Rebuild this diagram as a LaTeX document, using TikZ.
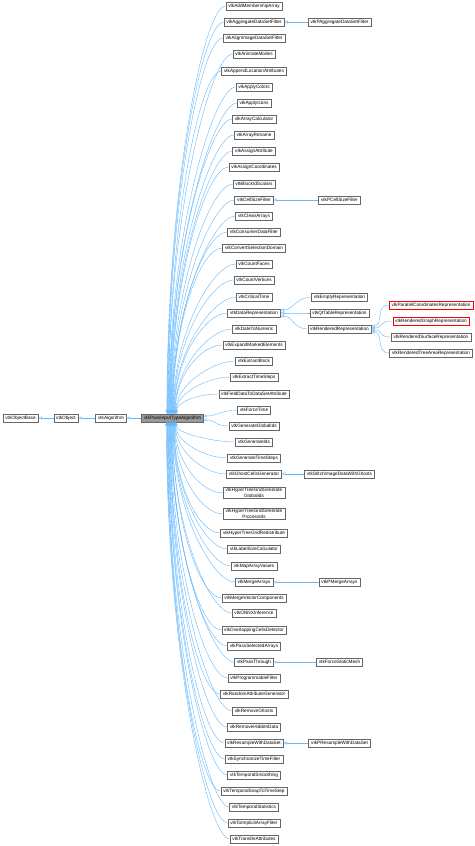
\documentclass[tikz,border=0pt]{standalone}
\usepackage{fontspec}
\setmainfont{Liberation Sans}
\usetikzlibrary{arrows.meta}
\definecolor{boxline}{RGB}{102,102,102}
\definecolor{curfill}{RGB}{153,153,153}
\definecolor{inhblue}{RGB}{99,184,255}
\tikzset{
  cls/.style={draw=boxline,fill=white,line width=0.4pt,inner xsep=2.5pt,inner ysep=0.8pt,
    minimum height=8pt,font=\fontsize{4.7}{6}\selectfont,align=center},
  cur/.style={cls,fill=curfill},
  trunc/.style={cls,draw=red},
  inh/.style={draw=inhblue,line width=0.4pt,-{Triangle[open,length=3.5pt,width=3pt]}}
}
\begin{document}
\begin{tikzpicture}[x=1pt,y=-1pt]
\useasboundingbox (0,0) rectangle (474,846);
% base chain
\node[cls] (base) at (20.5,418) {vtkObjectBase};
\node[cls] (obj) at (66,418) {vtkObject};
\node[cls] (algo) at (111,418) {vtkAlgorithm};
\node[cur] (pass) at (172.5,418) {vtkPassInputTypeAlgorithm};
\draw[inh] (obj.west) -- (base.east);
\draw[inh] (algo.west) -- (obj.east);
\draw[inh] (pass.west) -- (algo.east);
% subclasses above
\foreach \n/\t/\y [count=\i] in {addmem/vtkAddMembershipArray/6,aggr/vtkAggregateDataSetFilter/22,
  align/vtkAlignImageDataSetFilter/38,animate/vtkAnimateModes/54,appendloc/vtkAppendLocationAttributes/71,
  colors/vtkApplyColors/87,icons/vtkApplyIcons/103,arrcalc/vtkArrayCalculator/119,arrren/vtkArrayRename/135,
  assattr/vtkAssignAttribute/151,asscoord/vtkAssignCoordinates/167,blockid/vtkBlockIdScalars/184,
  cellsize/vtkCellSizeFilter/200,clean/vtkCleanArrays/216,consumer/vtkConsumerDataFilter/232,
  convsel/vtkConvertSelectionDomain/248,faces/vtkCountFaces/264,verts/vtkCountVertices/280,
  crit/vtkCriticalTime/297,datarep/vtkDataRepresentation/313,date/vtkDateToNumeric/329,
  expand/vtkExpandMarkedElements/345,extblock/vtkExtractBlock/361,extsteps/vtkExtractTimeSteps/377,
  fielddata/vtkFieldDataToDataSetAttribute/394}{
\node[cls] (\n) at (254,\y) {\t};
\pgfmathsetmacro\k{0.55*(414-\y)}
\pgfmathsetmacro\xs{-6+0.4*\i}
\draw[inh] (\n.west) .. controls +(-22,0) and +(0,-\k) .. ([xshift=\xs pt]pass.north);
}
% subclasses beside
\node[cls] (forcetime) at (254,410) {vtkForceTime};
\node[cls] (genglobal) at (254,426) {vtkGenerateGlobalIds};
\draw[inh] (forcetime.west) .. controls +(-14,0) and +(12,0) .. ([yshift=2pt]pass.east);
\draw[inh] (genglobal.west) .. controls +(-14,0) and +(12,0) .. ([yshift=-2pt]pass.east);
% subclasses below
\foreach \n/\t/\y [count=\i] in {genids/vtkGenerateIds/442,gensteps/vtkGenerateTimeSteps/458,
  ghost/vtkGhostCellsGenerator/474,htgglobal/{vtkHyperTreeGridGenerate\\GlobalIds}/493,
  htgproc/{vtkHyperTreeGridGenerate\\ProcessIds}/514,htgredist/vtkHyperTreeGridRedistribute/533,
  labelsize/vtkLabelSizeCalculator/549,maparr/vtkMapArrayValues/566,merge/vtkMergeArrays/582,
  mergevec/vtkMergeVectorComponents/598,onnx/vtkONNXInference/613,overlap/vtkOverlappingCellsDetector/630,
  passsel/vtkPassSelectedArrays/646,passthru/vtkPassThrough/662,progr/vtkProgrammableFilter/678,
  randattr/vtkRandomAttributeGenerator/694,rmghosts/vtkRemoveGhosts/711,rmhidden/vtkRemoveHiddenData/727,
  resample/vtkResampleWithDataSet/743,synctime/vtkSynchronizeTimeFilter/759,tsmooth/vtkTemporalSmoothing/775,
  tsnap/vtkTemporalSnapToTimeStep/791,tstats/vtkTemporalStatistics/807,toimpl/vtkToImplicitArrayFilter/823,
  transfer/vtkTransferAttributes/839}{
\node[cls] (\n) at (254,\y) {\t};
\pgfmathsetmacro\k{0.55*(\y-422)}
\pgfmathsetmacro\xs{4-0.4*\i}
\draw[inh] (\n.west) .. controls +(-22,0) and +(0,\k) .. ([xshift=\xs pt]pass.south);
}
% second level, one child each
\foreach \n/\t/\y/\p in {paggr/vtkPAggregateDataSetFilter/22/aggr,pcell/vtkPCellSizeFilter/200/cellsize,
  stitch/vtkStitchImageDataWithGhosts/474/ghost,pmerge/vtkPMergeArrays/582/merge,
  staticmesh/vtkForceStaticMesh/662/passthru,presample/vtkPResampleWithDataSet/743/resample}{
\node[cls] (\n) at (339.5,\y) {\t};
\draw[inh] (\n.west) -- (\p.east);
}
% representations
\foreach \n/\t/\y/\s in {emptyrep/vtkEmptyRepresentation/297/3,qtrep/vtkQtTableRepresentation/313/0,
  rendrep/vtkRenderedRepresentation/329/-3}{
\node[cls] (\n) at (339.5,\y) {\t};
\draw[inh] (\n.west) .. controls +(-14,0) and +(12,0) .. ([yshift=\s pt]datarep.east);
}
\foreach \n/\t/\y/\s/\st in {parcoord/vtkParallelCoordinatesRepresentation/305/3/trunc,
  rendgraph/vtkRenderedGraphRepresentation/321/1/trunc,rendsurf/vtkRenderedSurfaceRepresentation/337/-1/cls,
  rendtree/vtkRenderedTreeAreaRepresentation/353/-3/cls}{
\node[\st] (\n) at (431,\y) {\t};
\draw[inh] (\n.west) .. controls +(-14,0) and +(12,0) .. ([yshift=\s pt]rendrep.east);
}
\end{tikzpicture}
\end{document}
